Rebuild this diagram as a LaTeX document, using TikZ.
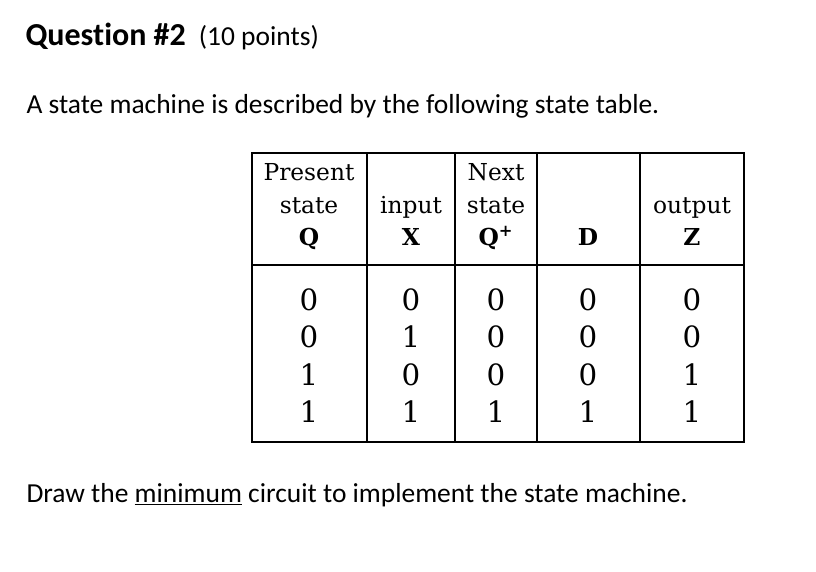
\documentclass[tikz,border=0pt]{standalone}
\usepackage{fontspec}
\setmainfont{Carlito}[Ligatures=NoCommon]
\newfontfamily\tabfont{DejaVu Serif}
\usetikzlibrary{positioning}

\tikzset{every picture/.style={line width=0.75pt}}
\tikzset{
  titletxt/.style={anchor=base west,inner sep=0pt,font=\fontsize{24}{29}\selectfont\bfseries},
  bodytxt/.style={anchor=base west,inner sep=0pt,font=\fontsize{20.6}{25}\selectfont},
  hdr/.style={anchor=base,inner sep=0pt,font=\tabfont\fontsize{17.5}{21}\selectfont},
  cellval/.style={anchor=base,inner sep=0pt,font=\tabfont\fontsize{22}{26}\selectfont},
  tabline/.style={line width=1.5pt},
}

\begin{document}
\begin{tikzpicture}[x=0.75pt,y=0.75pt,yscale=-1,xscale=1]
%set diagram left start at 0, and has height of 571
\useasboundingbox (0,0) rectangle (816,571);

% Text Node
\node [titletxt] (title) at (25,45) {Question \#2};
% Text Node
\node [bodytxt,right=12 of title.base east,anchor=base west] (points) {(10 points)};
% Text Node
\node [bodytxt] (intro) at (26,113) {A state machine is described by the following state table.};

%Table frame
\draw [tabline] (252,153) rectangle (744,442);
%Straight Lines
\draw [tabline] (252,265) -- (744,265);
%Straight Lines
\foreach \cx in {367,455,537,640}
  \draw [tabline] (\cx,153) -- (\cx,442);

% Header Text Nodes
\node [hdr] (hq1) at (309,180) {Present};
\node [hdr] (hq2) at (309,213) {state};
\node [hdr] (hq3) at (309,245) {\bfseries Q};
\node [hdr] (hx2) at (411,213) {input};
\node [hdr] (hx3) at (411,245) {\bfseries X};
\node [hdr] (hn1) at (496,180) {Next};
\node [hdr] (hn2) at (496,213) {state};
\node [hdr] (hn3) at (496,245) {\bfseries Q\textsuperscript{+}};
\node [hdr] (hd3) at (588,245) {\bfseries D};
\node [hdr] (hz2) at (692,213) {output};
\node [hdr] (hz3) at (692,245) {\bfseries Z};

% Table values
\foreach \row/\y/\q/\x/\n/\d/\z in {1/310/0/0/0/0/0, 2/347/0/1/0/0/0, 3/385/1/0/0/0/1, 4/422/1/1/1/1/1}{
  \node [cellval] (q\row) at (309,\y) {\q};
  \node [cellval] (x\row) at (411,\y) {\x};
  \node [cellval] (n\row) at (496,\y) {\n};
  \node [cellval] (d\row) at (588,\y) {\d};
  \node [cellval] (z\row) at (692,\y) {\z};
}

% Text Node
\node [bodytxt] (task) at (26,502) {Draw the \underline{minimum} circuit to implement the state machine.};

\end{tikzpicture}
\end{document}
